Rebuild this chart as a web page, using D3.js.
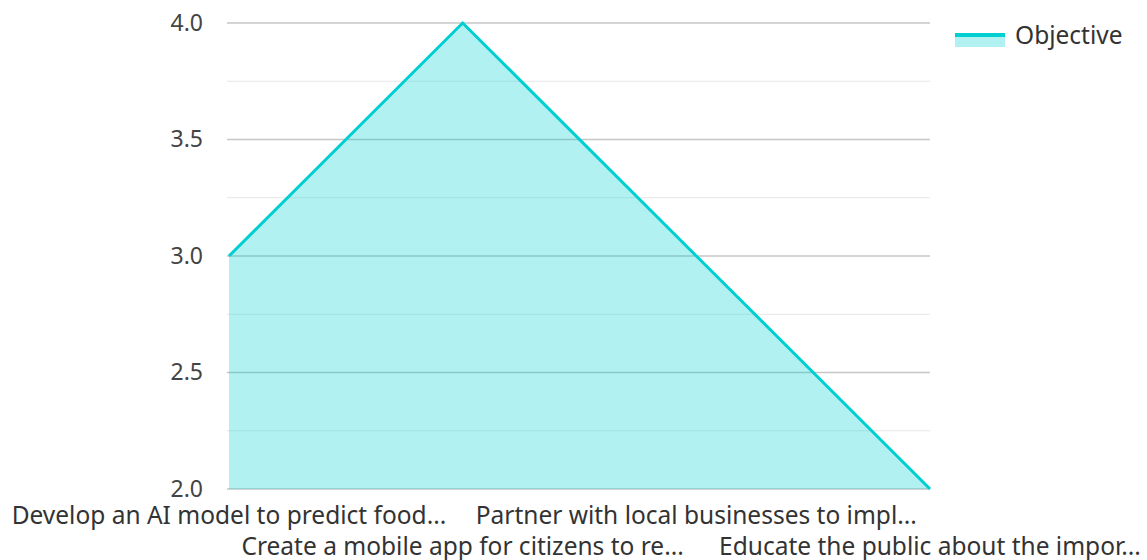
<!DOCTYPE html>
<html><head><meta charset="utf-8">
<script src="https://cdn.jsdelivr.net/npm/d3@7"></script>
<style>body{margin:0;background:#fff;} svg{display:block;font-family:"Noto Sans",sans-serif;}</style>
</head><body>
<svg id="c" width="1147" height="560"></svg>
<script>
const categories = [
  "Develop an AI model to predict food...",
  "Create a mobile app for citizens to re...",
  "Partner with local businesses to impl...",
  "Educate the public about the impor..."
];
const values = [3, 4, 3, 2];
const seriesName = "Objective";
const majorTicks = [2.0, 2.5, 3.0, 3.5, 4.0];
const minorTicks = [2.25, 2.75, 3.25, 3.75];

const lineColor = "#00cfd1";
const fs = 24.5;
const svg = d3.select("#c");
const x = d3.scalePoint().domain(categories).range([229, 930]);
const y = d3.scaleLinear().domain([2, 4]).range([489, 23]);

// minor grid
svg.append("g").selectAll("line").data(minorTicks).join("line")
  .attr("x1", 227).attr("x2", 930)
  .attr("y1", d => y(d)).attr("y2", d => y(d))
  .attr("stroke", "#e6e6e6").attr("stroke-width", 1);
// major grid
svg.append("g").selectAll("line").data(majorTicks).join("line")
  .attr("x1", 227).attr("x2", 930)
  .attr("y1", d => y(d)).attr("y2", d => y(d))
  .attr("stroke", "#c6c6c6").attr("stroke-width", 1.3);

// y axis labels
const yAxis = d3.axisLeft(y).tickValues(majorTicks).tickFormat(d3.format(".1f")).tickSize(0).tickPadding(24);
const ya = svg.append("g").attr("transform", "translate(227,0)").call(yAxis);
ya.select(".domain").remove();
ya.selectAll("text").attr("font-size", fs - 1.5).attr("fill", "#444").attr("font-family", "Noto Sans");

const pts = categories.map((c, i) => ({c, v: values[i]}));
svg.append("path").datum(pts)
  .attr("d", d3.area().x(d => x(d.c)).y0(y(2)).y1(d => y(d.v)))
  .attr("fill", lineColor).attr("fill-opacity", 0.3);
svg.append("path").datum(pts)
  .attr("d", d3.line().x(d => x(d.c)).y(d => y(d.v)))
  .attr("fill", "none").attr("stroke", lineColor).attr("stroke-width", 3);

// x labels
svg.append("g").selectAll("text").data(categories).join("text")
  .attr("x", d => x(d))
  .attr("y", (d, i) => i % 2 === 0 ? 524 : 555)
  .attr("text-anchor", "middle").attr("font-size", fs).attr("fill", "#333")
  .text(d => d);

// legend
const lg = svg.append("g");
lg.append("rect").attr("x", 955).attr("y", 35).attr("width", 50).attr("height", 12)
  .attr("fill", lineColor).attr("fill-opacity", 0.3);
lg.append("line").attr("x1", 955).attr("x2", 1005).attr("y1", 35).attr("y2", 35)
  .attr("stroke", lineColor).attr("stroke-width", 4);
lg.append("text").attr("x", 1015).attr("y", 44).attr("font-size", fs).attr("fill", "#333").text(seriesName);
</script>
</body></html>
